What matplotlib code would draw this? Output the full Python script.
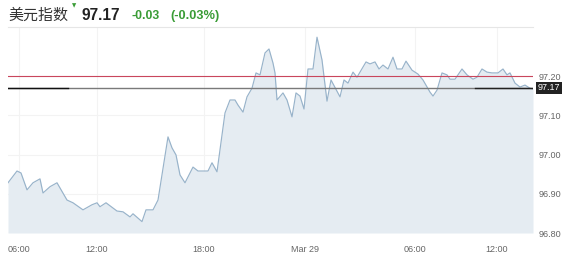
import matplotlib.pyplot as plt

# time slots along the (compressed) session axis and index values
slots = [0, 9, 13, 19, 25, 32, 35, 42, 49, 59, 65, 75, 84, 89, 92, 98, 109, 115, 122, 125,
         134, 138, 145, 150, 160, 164, 168, 172, 177, 185, 190, 200, 204, 209, 217, 222,
         227, 230, 235, 239, 244, 248, 252, 257, 261, 265, 267, 269, 275, 279, 284, 288,
         292, 296, 300, 305, 309, 314, 319, 323, 332, 336, 340, 345, 349, 358, 362, 367,
         371, 375, 380, 385, 389, 394, 398, 404, 410, 415, 422, 425, 429, 434, 439, 442,
         447, 454, 459, 465, 469, 474, 479, 484, 490, 495, 499, 502, 507, 512, 517, 522, 525]
values = [96.928, 96.958, 96.953, 96.910, 96.928, 96.938, 96.902, 96.918, 96.928, 96.884,
          96.877, 96.859, 96.872, 96.877, 96.867, 96.877, 96.856, 96.854, 96.841, 96.849,
          96.829, 96.859, 96.859, 96.884, 97.045, 97.017, 96.999, 96.948, 96.928, 96.968,
          96.958, 96.958, 96.979, 96.956, 97.106, 97.139, 97.139, 97.126, 97.108, 97.147,
          97.169, 97.208, 97.203, 97.259, 97.269, 97.233, 97.208, 97.139, 97.157, 97.139,
          97.096, 97.157, 97.149, 97.116, 97.218, 97.218, 97.299, 97.241, 97.136, 97.190,
          97.147, 97.190, 97.182, 97.210, 97.197, 97.236, 97.231, 97.236, 97.218, 97.228,
          97.218, 97.248, 97.218, 97.218, 97.238, 97.215, 97.205, 97.190, 97.159, 97.149,
          97.164, 97.208, 97.203, 97.192, 97.192, 97.218, 97.203, 97.192, 97.197, 97.218,
          97.210, 97.208, 97.208, 97.218, 97.203, 97.208, 97.182, 97.172, 97.177, 97.169, 97.167]

tick_slots = [11, 89, 196, 297, 407, 489]
tick_labels = ['06:00', '12:00', '18:00', 'Mar 29', '06:00', '12:00']
y_ticks = [96.80, 96.90, 97.00, 97.10, 97.20]

prev_close = 97.20
last = 97.17
change = '-0.03'
change_pct = '(-0.03%)'

line_color = '#98b3ca'
fill_color = '#e5ecf2'
green = '#3a9c36'

fig = plt.figure(figsize=(5.79, 2.58), dpi=100)
ax = fig.add_axes([8 / 579, 25 / 258, 525 / 579, 206 / 258])

ax.fill_between(slots, values, 96.80, color=fill_color, lw=0, zorder=1)
ax.plot(slots, values, color=line_color, lw=0.85, zorder=3)

# reference lines: previous close and last price
ax.axhline(prev_close, color='#c9465c', lw=0.8, zorder=4)
ax.axhline(last, color='#7a7a7a', lw=1.0, zorder=4)
ax.plot([0, 60], [last, last], color='#111111', lw=1.0, zorder=5)
ax.plot([467, 525], [last, last], color='#222222', lw=1.0, zorder=5)

ax.set_xlim(0, 525)
ax.set_ylim(96.80, 97.325)

ax.set_xticks(tick_slots)
ax.set_xticklabels(tick_labels)
ax.set_yticks(y_ticks)
ax.set_yticklabels(['%.2f' % v for v in y_ticks])
ax.yaxis.tick_right()
ax.tick_params(axis='both', length=0, labelsize=6.5, labelcolor='#666666')
ax.tick_params(axis='x', pad=8.5)
ax.tick_params(axis='y', pad=4)
for lab in ax.get_xticklabels() + ax.get_yticklabels():
    lab.set_fontfamily('Liberation Sans')

ax.grid(True, color='#f3f3f3', lw=0.8, zorder=0)
ax.set_axisbelow(True)
for side in ['left', 'right', 'bottom']:
    ax.spines[side].set_visible(False)
ax.spines['top'].set_color('#e6e6e6')
ax.spines['top'].set_linewidth(0.8)

# last price tag on the right axis
ax.annotate('%.2f' % last, xy=(1.0, last), xycoords=('axes fraction', 'data'),
            xytext=(3.5, 0), textcoords='offset points', ha='left', va='center',
            fontsize=6.5, family='Liberation Sans', color='white',
            bbox=dict(boxstyle='square,pad=0.2', fc='#222222', ec='none'), zorder=6)

# header
fig.text(8 / 579, 1 - 16 / 258, '美元指数', fontsize=10.8, color='#333333',
         family=['Noto Sans CJK SC', 'DejaVu Sans'], va='center', ha='left')
fig.text(74 / 579, 1 - 6 / 258, '▼', fontsize=4, color=green, va='center', ha='center')
fig.text(82 / 579, 1 - 16 / 258, '%.2f' % last, fontsize=11.2, fontweight='bold',
         color='#222222', family='Liberation Sans', va='center', ha='left')
fig.text(131 / 579, 1 - 16 / 258, change, fontsize=8.8, fontweight='bold',
         color=green, family='Liberation Sans', va='center', ha='left')
fig.text(170 / 579, 1 - 16 / 258, change_pct, fontsize=9.2, fontweight='bold',
         color=green, family='Liberation Sans', va='center', ha='left')

fig.savefig('out.png', dpi=100)
